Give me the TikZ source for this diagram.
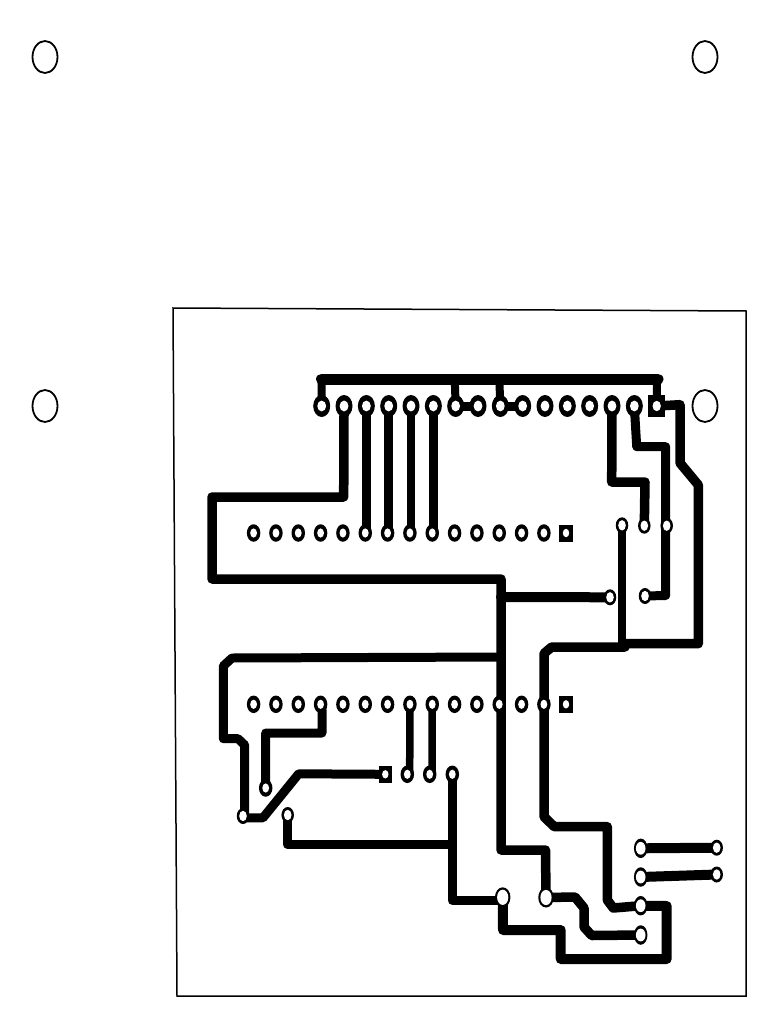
\documentclass[tikz,border=0pt]{standalone}
\usetikzlibrary{shapes.geometric,backgrounds}
\tikzset{
  trk/.style={draw=black,line width=#1,line join=round,line cap=round},
  trk/.default=9pt,
  padbase/.style n args={4}{fill=black,inner sep=0pt,outer sep=0pt,minimum width=#1,minimum height=#2,
    path picture={\fill[white] (path picture bounding box.center) ellipse [x radius=#3,y radius=#4];}},
  padbig/.style={shape=ellipse,padbase={17pt}{22pt}{4.4pt}{5.4pt}},
  padbigsq/.style={shape=rectangle,padbase={17.5pt}{22pt}{4.2pt}{5.2pt}},
  padmid/.style={shape=ellipse,padbase={13.5pt}{17.5pt}{3.4pt}{4.6pt}},
  padmidsq/.style={shape=rectangle,padbase={13.5pt}{17pt}{3.2pt}{4.2pt}},
  padsm/.style={shape=ellipse,padbase={12.5pt}{16pt}{3.8pt}{5.2pt}},
  padlg/.style={shape=ellipse,padbase={13.5pt}{19.5pt}{4.8pt}{6.4pt}},
  padxl/.style={shape=ellipse,padbase={15.5pt}{20pt}{5.6pt}{7.6pt}},
  hole/.style={shape=ellipse,draw=black,fill=white,line width=1.8pt,inner sep=0pt,minimum width=25pt,minimum height=32pt},
  board/.style={draw=black,line width=1.5pt}
}
\begin{document}
\begin{tikzpicture}[x=1pt,y=-1pt]
\useasboundingbox (0,0) rectangle (768,1024);
% board outline
\coordinate (b1) at (173,308);
\coordinate (b2) at (746,311);
\coordinate (b3) at (746,996);
\coordinate (b4) at (177,996);
\draw[board] (b1) -- (b2) -- (b3) -- (b4) -- cycle;
% mounting holes
\node[hole] (h1) at (45,57) {};
\node[hole] (h2) at (705,57) {};
\node[hole] (h3) at (45,406) {};
\node[hole] (h4) at (705,406) {};
% connector rows
\foreach \i in {1,...,15} \node[padbig] (t\i) at ({321.7+22.33*(\i-1)},406) {};
\node[padbigsq] (t16) at (656.7,406) {};
\foreach \i in {1,...,14} {
  \node[padmid] (m\i) at ({253.6+22.33*(\i-1)},533) {};
  \node[padmid] (l\i) at ({253.6+22.33*(\i-1)},704.3) {};
}
\node[padmidsq] (m15) at (566,533) {};
\node[padmidsq] (l15) at (566,704.3) {};
% lower header
\node[padmidsq] (s1) at (385.3,774.3) {};
\node[padmid] (s2) at (407.3,774.3) {};
\node[padmid] (s3) at (429.7,774.3) {};
\node[padmid] (s4) at (452.3,774.3) {};
% loose pads
\node[padmid] (a1) at (265.7,788) {};
\node[padsm] (a2) at (243,816) {};
\node[padsm] (a3) at (287.7,815) {};
\node[padsm] (c1) at (622,525.3) {};
\node[padsm] (c2) at (644.3,525.7) {};
\node[padsm] (c3) at (666.7,525.7) {};
\node[padsm] (c4) at (610,597.3) {};
\node[padsm] (c5) at (645,596) {};
\node[padlg] (r1) at (640.7,848.3) {};
\node[padlg] (r2) at (640.7,877) {};
\node[padlg] (r3) at (640.7,905.7) {};
\node[padlg] (r4) at (640.7,935) {};
\node[padsm] (q1) at (716.7,847.7) {};
\node[padsm] (q2) at (716.7,874.5) {};
\node[padxl] (x1) at (502.7,897.3) {};
\node[padxl] (x2) at (546,897.5) {};
\begin{scope}[on background layer]
% top bus
\draw[trk=11pt] (321.5,379) -- (658,379);
\draw[trk=8pt] (t1.center) -- (321.5,379);
\draw[trk=8pt] (t7.center) -- (454.7,379);
\draw[trk=8pt] (t9.center) -- (499.3,379);
\draw[trk=8pt] (t16.center) -- (657,379);
\draw[trk=9pt] (t7.center) -- (t8.center);
\draw[trk=9pt] (t9.center) -- (t10.center);
% data lines
\draw[trk=8.7pt] (t3.center) -- (t3.center |- m6.center);
\draw[trk=8.7pt] (t4.center) -- (t4.center |- m7.center);
\draw[trk=8.7pt] (t5.center) -- (t5.center |- m8.center);
\draw[trk=8.7pt] (t6.center) -- (t6.center |- m9.center);
% power loop
\draw[trk=9.5pt] (t2.center) -- (343.7,497) -- (212,497) -- (212,579) -- (501,579) -- (501,850) -- (545.5,850) -- (x2.center);
\draw[trk=10pt] (501,597) -- (c4.center);
% left ground loop
\draw[trk=9pt] (501,657) -- (232,658) -- (223.3,666) -- (223.3,738.7) -- (238,738.7) -- (244.7,745) -- (244.7,812) -- (a2.center);
\draw[trk=9pt] (a2.center) -- (246,817.8) -- (263,817.8) -- (298.7,773.8) -- (s1.center);
\draw[trk=9pt] (l4.center) -- (322,710) -- (322,733) -- (265.7,733) -- (a1.center);
\draw[trk=7.5pt] (l8.center) -- (409.7,772);
\draw[trk=7.5pt] (l9.center) -- (432,772);
\draw[trk=9pt] (s4.center) -- (452.3,900.3) -- (502.7,900.3) -- (x1.center);
\draw[trk=9.5pt] (a3.center) -- (287.7,844.3) -- (452.3,844.3);
% lower right
\draw[trk=9.5pt] (x2.center) -- (575,897) -- (584,908) -- (584,927) -- (591.7,935.5) -- (r4.center);
\draw[trk=10pt] (x1.center) -- (503,930) -- (560.7,930) -- (560.7,959) -- (666.7,959) -- (666.7,906) -- (r3.center);
\draw[trk=9.5pt] (r3.center) -- (613.3,908) -- (607.3,900) -- (607.3,826.7) -- (554.3,826.7) -- (544,816.7) -- (544,653.5) -- (551.7,647) -- (625,647) -- (625,643.7) -- (698.3,643.7) -- (698.3,485) -- (680,463) -- (680,404.7) -- (t16.center);
\draw[trk=8pt] (c1.center) -- (622,646);
\draw[trk=9.5pt] (t14.center) -- (611.7,482) -- (645,482) -- (c2.center);
\draw[trk=9pt] (t15.center) -- (636.7,446.7) -- (665.7,446.7) -- (665.7,595.5) -- (c5.center);
\draw[trk=10pt] (r1.center) -- (q1.center);
\draw[trk=10pt] (r2.center) -- (q2.center);
\end{scope}
\end{tikzpicture}
\end{document}
